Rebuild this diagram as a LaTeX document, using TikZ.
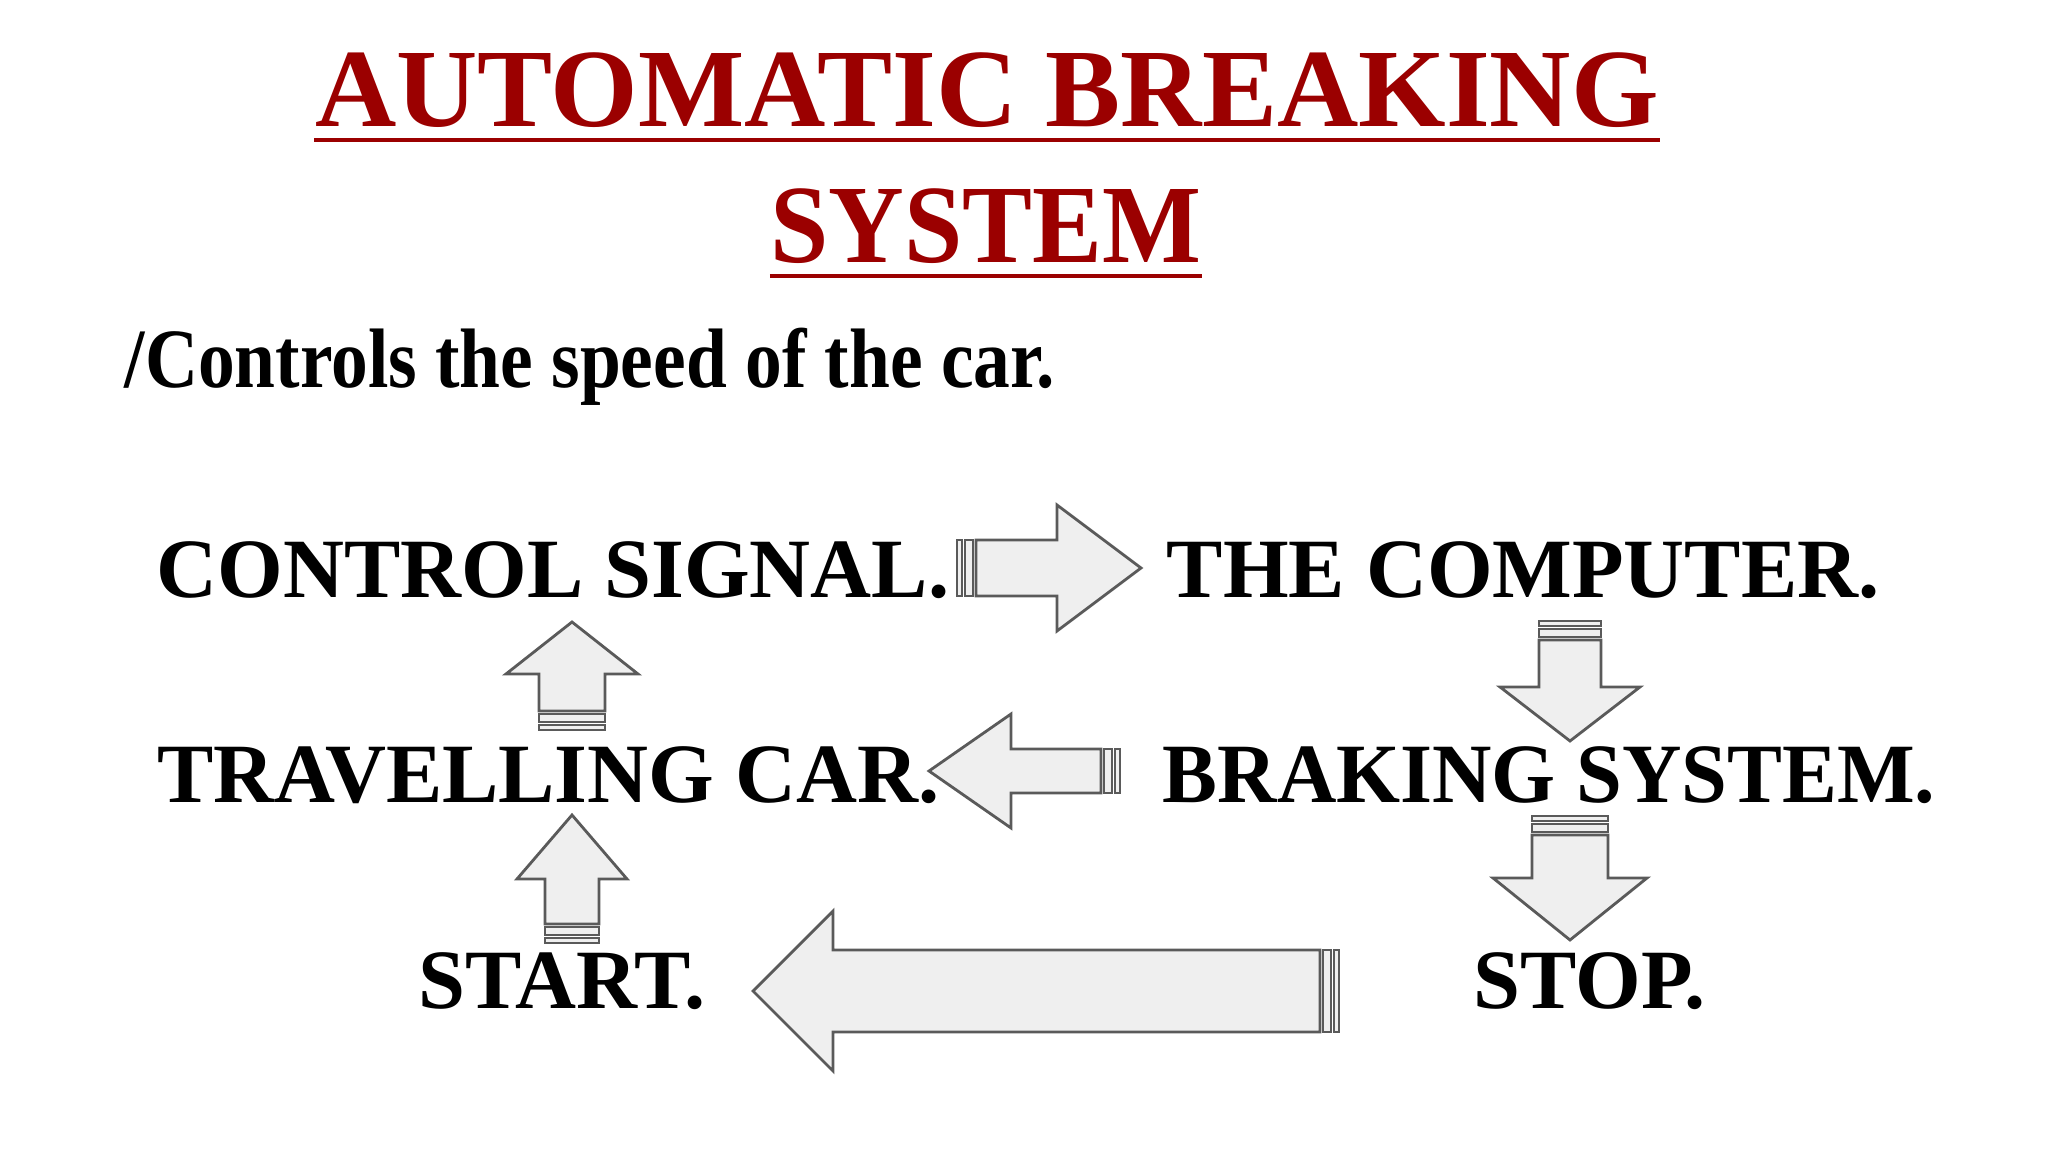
\documentclass[tikz,border=0pt]{standalone}
\usepackage{fontspec}
\setmainfont{Liberation Serif}

\definecolor{titlered}{RGB}{155,0,0}
\definecolor{arrowline}{RGB}{90,90,90}
\definecolor{arrowfill}{RGB}{239,239,239}

% block arrow: tip, angle, head length, head half width, body length, body half width
\newcommand{\fatarrow}[6]{%
  \begin{scope}[shift={#1}, rotate=#2]
    \draw[arrowbox] (0,0) -- (-#3,#4) -- (-#3,#6) -- ({-#3-#5},#6) -- ({-#3-#5},-#6)
      -- (-#3,-#6) -- (-#3,-#4) -- cycle;
    \draw[arrowbox] ({-#3-#5-3},#6) rectangle ({-#3-#5-11},-#6);
    \draw[arrowbox] ({-#3-#5-14},#6) rectangle ({-#3-#5-19},-#6);
  \end{scope}}

\begin{document}
\begin{tikzpicture}[x=0.01cm, y=-0.01cm,
  heading/.style={anchor=base, inner sep=0pt, text=titlered,
    font=\fontsize{31.7}{38}\selectfont\bfseries},
  underline/.style={draw=titlered, line width=0.04cm},
  label/.style={anchor=base west, inner sep=0pt,
    font=\fontsize{24}{29}\selectfont\bfseries},
  arrowbox/.style={draw=arrowline, fill=arrowfill, line width=0.8pt, line join=miter}]
  \useasboundingbox (0,0) rectangle (2048,1152);

  % title
  \node[heading] (title) at (987,127) {\scalebox{1.01}[1]{AUTOMATIC BREAKING}};
  \node[heading] (titletwo) at (986,263) {\scalebox{0.94}[1]{SYSTEM}};
  \draw[underline] ([yshift=-0.13cm]title.base west) -- ([yshift=-0.13cm]title.base east);
  \draw[underline] ([yshift=-0.13cm]titletwo.base west) -- ([yshift=-0.13cm]titletwo.base east);

  \node[label] (sub) at (124,388) {\scalebox{0.87}[1]{/Controls the speed of the car.}};

  % the loop
  \node[label] (control) at (156,597) {CONTROL SIGNAL.};
  \node[label] (computer) at (1166,597) {THE COMPUTER.};
  \node[label] (car) at (157,802) {TRAVELLING CAR.};
  \node[label] (braking) at (1162,802) {\scalebox{0.975}[1]{BRAKING SYSTEM.}};
  \node[label] (start) at (418,1008) {START.};
  \node[label] (stop) at (1473,1008) {STOP.};

  \coordinate (tipcc) at (1141,568);
  \coordinate (tipcb) at (1570,741);
  \coordinate (tipbc) at (929,771);
  \coordinate (tipcs) at (572,622);
  \coordinate (tipsc) at (572,815);
  \coordinate (tipbs) at (1570,940);
  \coordinate (tipss) at (753,991);

  \fatarrow{(tipcc)}{0}{84}{63}{81}{28}
  \fatarrow{(tipcb)}{-90}{54}{70}{47}{31}
  \fatarrow{(tipbc)}{180}{82}{57}{90}{22}
  \fatarrow{(tipcs)}{90}{52}{66}{37}{33}
  \fatarrow{(tipsc)}{90}{64}{55}{45}{27}
  \fatarrow{(tipbs)}{-90}{62}{77}{43}{38}
  \fatarrow{(tipss)}{180}{80}{80}{487}{41}
\end{tikzpicture}
\end{document}
